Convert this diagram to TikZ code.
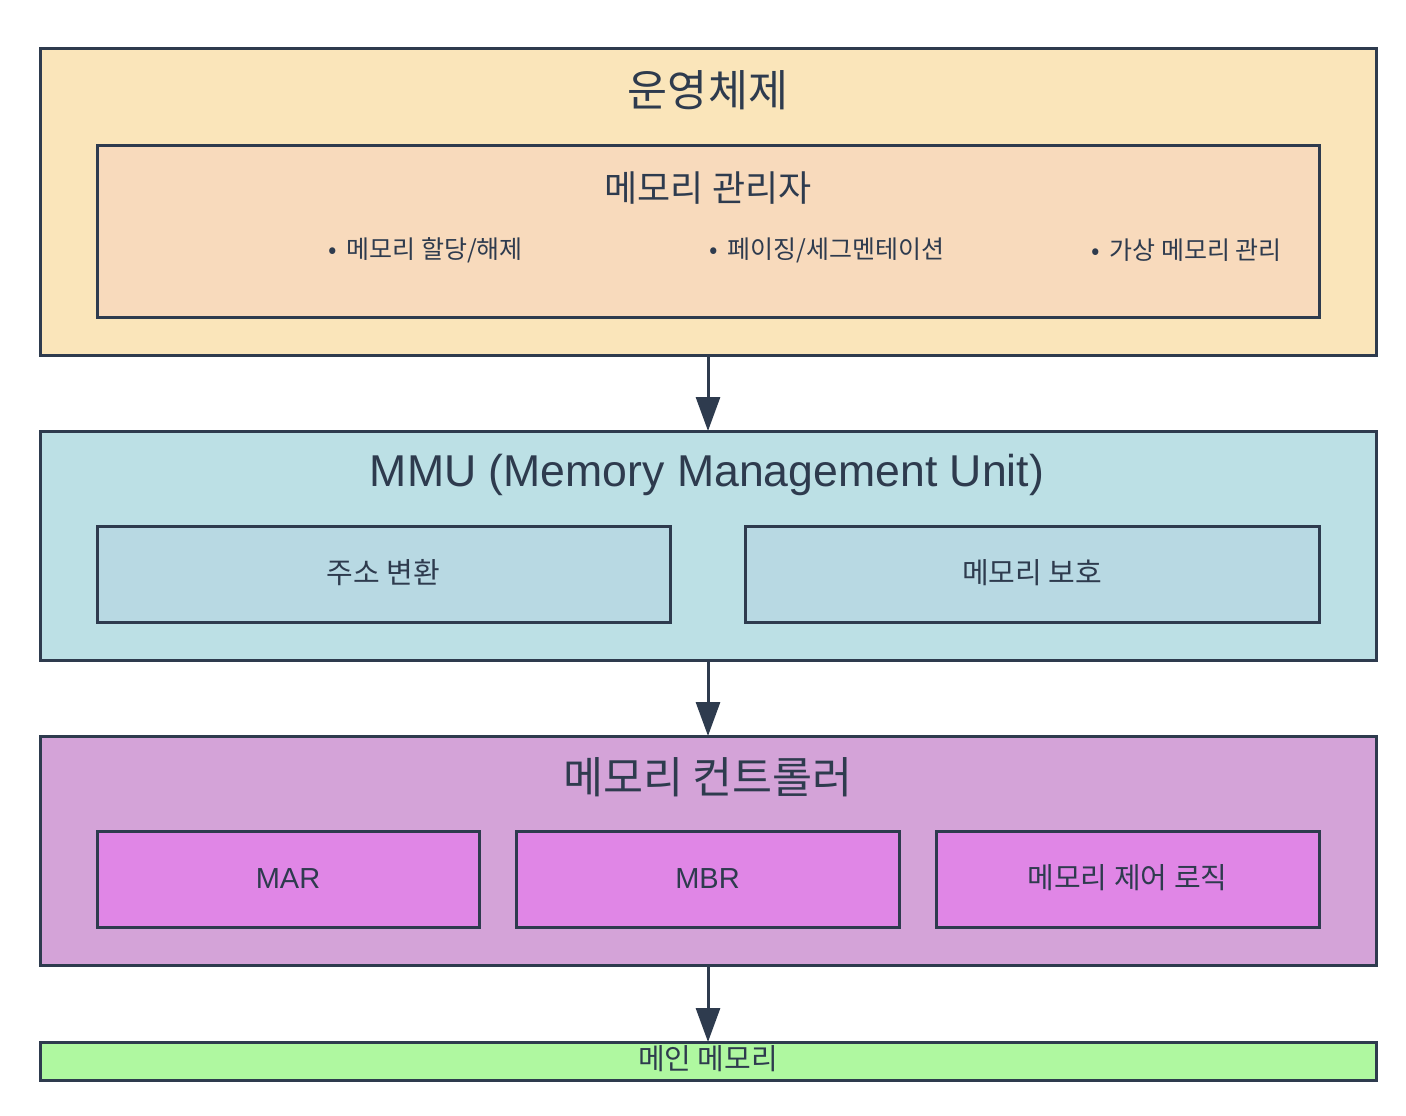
\documentclass[tikz,border=0pt]{standalone}
\usepackage{fontspec}
\setmainfont{Liberation Sans}
\newfontfamily\kr{Noto Sans CJK KR}
\usetikzlibrary{arrows.meta}
\definecolor{ink}{HTML}{2E3B4E}
\definecolor{osfill}{HTML}{FAE5BA}
\definecolor{mmfill}{HTML}{F8DABC}
\definecolor{mmufill}{HTML}{BCE0E5}
\definecolor{mmusub}{HTML}{B8D9E3}
\definecolor{ctlfill}{HTML}{D4A3D8}
\definecolor{ctlsub}{HTML}{E086E6}
\definecolor{mainfill}{HTML}{AFF8A0}
\tikzset{
  box/.style={draw=ink, line width=3pt, rectangle, inner sep=0pt, outer sep=0pt},
  lbl/.style={text=ink, inner sep=0pt, outer sep=0pt},
  conn/.style={draw=ink, line width=3pt, -{Triangle[length=34pt,width=24pt]}},
}
\newcommand{\krs}[1]{\kr\fontsize{#1}{#1}\selectfont}
\newcommand{\lts}[1]{\fontsize{#1}{#1}\selectfont}
\newcommand{\bul}{•\hspace{10pt}}
\begin{document}
\begin{tikzpicture}[x=1pt,y=-1pt]
\useasboundingbox[fill=white] (0,0) rectangle (1406,1116);
% OS
\node[box, fill=osfill, minimum width=1336pt, minimum height=306pt] (os) at (708,202) {};
\node[lbl, font=\krs{43.5}] (ostitle) at (708,90) {운영체제};
\node[box, fill=mmfill, minimum width=1222pt, minimum height=172pt] (mm) at (708,231) {};
\node[lbl, font=\krs{36}] (mmtitle) at (708,188) {메모리 관리자};
\node[lbl, font=\krs{25}, anchor=west] (b1) at (328,250) {\bul 메모리 할당/해제};
\node[lbl, font=\krs{25}, anchor=west] (b2) at (709,250) {\bul 페이징/세그멘테이션};
\node[lbl, font=\krs{25}, anchor=west] (b3) at (1091,250) {\bul 가상 메모리 관리};
% MMU
\node[box, fill=mmufill, minimum width=1336pt, minimum height=229pt] (mmu) at (708,545.5) {};
\node[lbl, font=\lts{44.6}] (mmutitle) at (707,475) {MMU (Memory Management Unit)};
\node[box, fill=mmusub, minimum width=573pt, minimum height=96pt] (addr) at (383.5,574) {};
\node[lbl, font=\krs{29}] (addrt) at (383.5,573) {주소 변환};
\node[box, fill=mmusub, minimum width=574pt, minimum height=96pt] (prot) at (1032,574) {};
\node[lbl, font=\krs{29}] (prott) at (1032,573) {메모리 보호};
% Controller
\node[box, fill=ctlfill, minimum width=1336pt, minimum height=229pt] (ctl) at (708,850.5) {};
\node[lbl, font=\krs{43.5}] (ctltitle) at (708,777) {메모리 컨트롤러};
\node[box, fill=ctlsub, minimum width=382pt, minimum height=96pt] (mar) at (288,879) {};
\node[lbl, font=\lts{29}] (mart) at (288,879) {MAR};
\node[box, fill=ctlsub, minimum width=383pt, minimum height=96pt] (mbr) at (707.5,879) {};
\node[lbl, font=\lts{29}] (mbrt) at (707.5,879) {MBR};
\node[box, fill=ctlsub, minimum width=383pt, minimum height=96pt] (logic) at (1127.5,879) {};
\node[lbl, font=\krs{29}] (logict) at (1127.5,878) {메모리 제어 로직};
% Main memory
\node[box, fill=mainfill, minimum width=1336pt, minimum height=38pt] (main) at (708,1061) {};
\node[lbl, font=\krs{29}] (maint) at (708,1059) {메인 메모리};
% connectors
\draw[conn] (os.south) -- (mmu.north);
\draw[conn] (mmu.south) -- (ctl.north);
\draw[conn] (ctl.south) -- (main.north);
\end{tikzpicture}
\end{document}
